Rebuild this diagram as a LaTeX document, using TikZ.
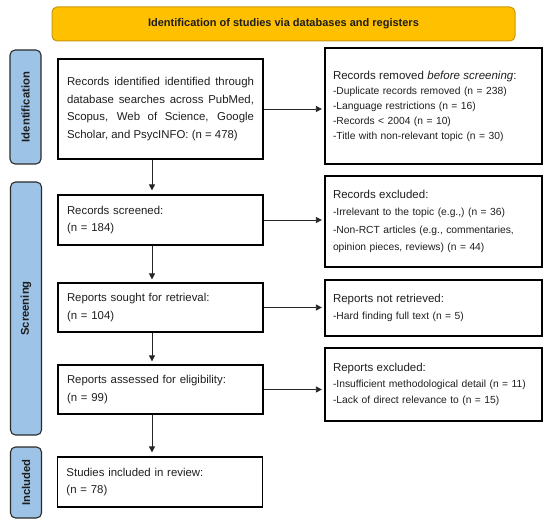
\documentclass[tikz,border=0pt]{standalone}
\usepackage{fontspec}
\setmainfont{Liberation Sans}
\usetikzlibrary{arrows.meta,calc}
\definecolor{bannerfill}{HTML}{FFC000}
\definecolor{bannerline}{HTML}{C9980A}
\definecolor{barfill}{HTML}{9DC3E6}
\definecolor{barline}{HTML}{2B2B2B}
\definecolor{inktext}{HTML}{1E1E1E}
\begin{document}
\begin{tikzpicture}[x=1pt,y=-1pt,
  banner/.style={draw=bannerline,fill=bannerfill,line width=1pt,rounded corners=5pt,
    minimum width=463pt,minimum height=34pt,inner sep=0pt,
    font=\fontsize{11}{13}\selectfont\bfseries,text=inktext},
  phasebar/.style={draw=barline,fill=barfill,line width=1.1pt,rounded corners=5pt,
    minimum width=31pt,inner sep=0pt,
    font=\fontsize{11.3}{13}\selectfont\bfseries,text=inktext},
  mainbox/.style={draw=black,line width=1.2pt,inner xsep=9pt,inner ysep=0pt,
    text width=187pt,minimum width=205pt,align=left,text=inktext,
    font=\fontsize{11.4}{17.5}\selectfont},
  sidebox/.style={draw=black,line width=1.2pt,inner xsep=8pt,inner ysep=0pt,
    text width=201pt,minimum width=217pt,align=left,text=inktext,
    font=\fontsize{10.3}{16}\selectfont},
  flow/.style={draw=black!85,line width=0.8pt,-{Triangle[length=6pt,width=6pt]}},
  ttl/.style={}]
\useasboundingbox (0,0) rectangle (550,527);

\node[banner] (ban) at (283.5,24) {Identification of studies via databases and registers};

\node[phasebar,minimum height=114pt] (pid) at (25.5,107) {};
\node[rotate=90,font=\fontsize{11.3}{13}\selectfont\bfseries,text=inktext] at (pid.center) {Identification};
\node[phasebar,minimum height=253pt] (psc) at (26,308.5) {};
\node[rotate=90,font=\fontsize{11.3}{13}\selectfont\bfseries,text=inktext] at (psc.center) {Screening};
\node[phasebar,minimum height=71pt] (pin) at (26,482.5) {};
\node[rotate=90,font=\fontsize{11.3}{13}\selectfont\bfseries,text=inktext] at (pin.center) {Included};

\node[mainbox,minimum height=100pt,align=justify] (b1) at (160.5,109)
  {Records identified identified through database searches across PubMed, Scopus, Web of Science, Google Scholar, and PsycINFO: (n = 478)};
\node[mainbox,minimum height=50pt] (b2) at (160.5,220) {Records screened:\\(n = 184)};
\node[mainbox,minimum height=49pt] (b3) at (160.5,307.5) {Reports sought for retrieval:\\(n = 104)};
\node[mainbox,minimum height=49pt] (b4) at (160.5,389.5) {Reports assessed for eligibility:\\(n = 99)};
\node[mainbox,minimum height=50pt] (b5) at (160,482) {Studies included in review:\\(n = 78)};

\node[sidebox,minimum height=116pt,font=\fontsize{10.3}{15}\selectfont] (r1) at (433.5,106)
  {{\fontsize{11.5}{15}\selectfont Records removed \textit{before screening}:}\\
   -Duplicate records removed (n = 238)\\
   -Language restrictions (n = 16)\\
   -Records < 2004 (n = 10)\\
   -Title with non-relevant topic (n = 30)};
\node[sidebox,minimum height=91pt,font=\fontsize{10.3}{17.5}\selectfont] (r2) at (433.5,221.5)
  {{\fontsize{11.5}{17.5}\selectfont Records excluded:}\\
   -Irrelevant to the topic (e.g.,) (n = 36)\\
   -Non-RCT articles (e.g., commentaries,\\
   opinion pieces, reviews) (n = 44)};
\node[sidebox,minimum height=56pt,font=\fontsize{10.3}{17}\selectfont] (r3) at (433.5,308)
  {{\fontsize{11.5}{17}\selectfont Reports not retrieved:}\\
   -Hard finding full text (n = 5)};
\node[sidebox,minimum height=73pt] (r4) at (433.5,384.5)
  {{\fontsize{11.5}{16}\selectfont Reports excluded:}\\
   -Insufficient methodological detail (n = 11)\\
   -Lack of direct relevance to (n = 15)};

\coordinate (ax) at (152,0);
\draw[flow,shorten >=4pt] (b1.south -| ax) -- (b2.north -| ax);
\draw[flow,shorten >=3pt] (b2.south -| ax) -- (b3.north -| ax);
\draw[flow,shorten >=3pt] (b3.south -| ax) -- (b4.north -| ax);
\draw[flow,shorten >=4pt] (b4.south -| ax) -- (b5.north -| ax);

\draw[flow,shorten >=2.5pt] (b1.east) -- (b1.east -| r1.west);
\draw[flow,shorten >=2.5pt] (b2.east) -- (b2.east -| r2.west);
\draw[flow,shorten >=2.5pt] (b3.east) -- (b3.east -| r3.west);
\draw[flow,shorten >=2.5pt] (b4.east) -- (b4.east -| r4.west);
\end{tikzpicture}
\end{document}
